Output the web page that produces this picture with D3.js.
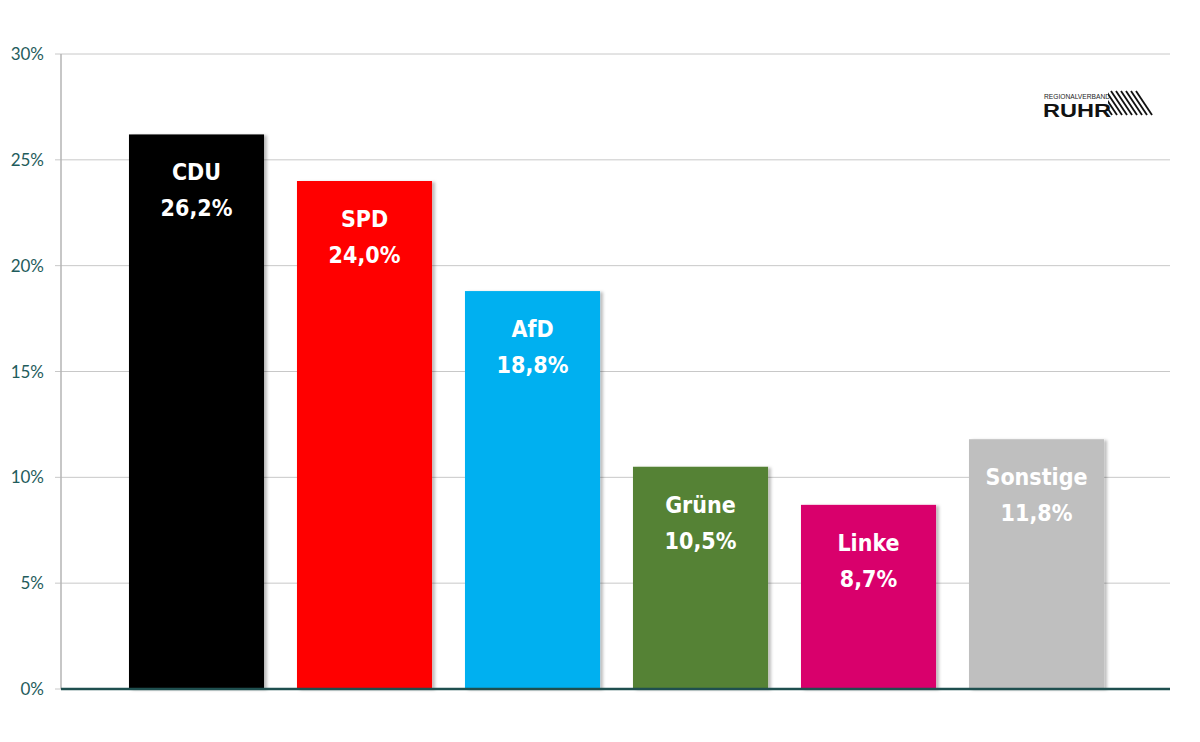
<!DOCTYPE html>
<html><head><meta charset="utf-8">
<script src="https://cdn.jsdelivr.net/npm/d3@7"></script>
<style>body{margin:0;background:#fff}</style>
</head><body>
<svg id="c" width="1200" height="742"></svg>
<script>
var parties = ["CDU","SPD","AfD","Grüne","Linke","Sonstige"];
var shares = [26.2,24.0,18.8,10.5,8.7,11.8];
var colors = ["#000000","#ff0000","#00b0f0","#548235","#d9006c","#bfbfbf"];
var yTicks = [0,5,10,15,20,25,30];

var svg = d3.select("#c");
var x = d3.scaleBand().domain(parties).range([112.5,1120.5]).paddingInner(0.196).paddingOuter(0.098);
var y = d3.scaleLinear().domain([0,30]).range([689,54]);

//grid lines
svg.selectAll(".grid").data(yTicks).enter().append("line")
  .attr("x1",55).attr("x2",1170)
  .attr("y1",function(d){return y(d);}).attr("y2",function(d){return y(d);})
  .attr("stroke","#c8c8c8").attr("stroke-width",1);
svg.append("line").attr("x1",61).attr("x2",61).attr("y1",y(30)).attr("y2",y(0))
  .attr("stroke","#b4b4b4").attr("stroke-width",1.5);

svg.selectAll(".tl").data(yTicks).enter().append("text")
  .attr("x",44).attr("y",function(d){return y(d)+6;})
  .attr("text-anchor","end").attr("fill","#1f5c5c")
  .style("font-family","Lato, sans-serif").style("font-size","17px")
  .text(function(d){return d+"%";});

var defs = svg.append("defs");
defs.append("filter").attr("id","sh").attr("x","-10%").attr("y","-10%").attr("width","130%").attr("height","130%")
  .append("feDropShadow").attr("dx",3).attr("dy",1).attr("stdDeviation",1.5).attr("flood-color","#000").attr("flood-opacity",0.25);

var g = svg.selectAll(".bar").data(parties).enter().append("g");
g.append("rect")
  .attr("x",function(d){return x(d);}).attr("width",x.bandwidth())
  .attr("y",function(d,i){return y(shares[i]);})
  .attr("height",function(d,i){return y(0)-y(shares[i]);})
  .attr("fill",function(d,i){return colors[i];})
  .attr("filter","url(#sh)");
g.append("text")
  .attr("x",function(d){return x(d)+x.bandwidth()/2;})
  .attr("y",function(d,i){return y(shares[i])+46;})
  .text(function(d){return d;});
g.append("text")
  .attr("x",function(d){return x(d)+x.bandwidth()/2;})
  .attr("y",function(d,i){return y(shares[i])+82;})
  .text(function(d,i){return shares[i].toFixed(1).replace(".",",")+"%";});
g.selectAll("text").attr("text-anchor","middle").attr("fill","#fff")
  .style("font-family","'DejaVu Sans Condensed', sans-serif").style("font-weight","bold").style("font-size","23px");

svg.append("line").attr("x1",61).attr("x2",1170).attr("y1",y(0)).attr("y2",y(0))
  .attr("stroke","#1f4f4f").attr("stroke-width",2.5);

//logo
var logo = svg.append("g");
for (var k=0;k<11;k++){
  logo.append("line").attr("x1",1086+k*5).attr("y1",91).attr("x2",1102+k*5).attr("y2",115)
    .attr("stroke","#111").attr("stroke-width",1.8);
}
logo.append("rect").attr("x",1040).attr("y",88).attr("width",68).attr("height",30).attr("fill","#fff");
logo.append("rect").attr("x",1138).attr("y",86).attr("width",30).attr("height",6).attr("fill","#fff");
logo.append("text").attr("x",1044).attr("y",99).text("REGIONALVERBAND")
  .attr("textLength",66).attr("lengthAdjust","spacingAndGlyphs")
  .style("font-family","'Liberation Sans Narrow', Arial, sans-serif").style("font-size","7px").attr("fill","#222");
logo.append("text").attr("x",1043).attr("y",117).text("RUHR")
  .style("font-family","'Liberation Sans', Arial, sans-serif").style("font-weight","900").style("font-size","19px")
  .attr("textLength",68).attr("lengthAdjust","spacingAndGlyphs").attr("fill","#111");
</script>
</body></html>
